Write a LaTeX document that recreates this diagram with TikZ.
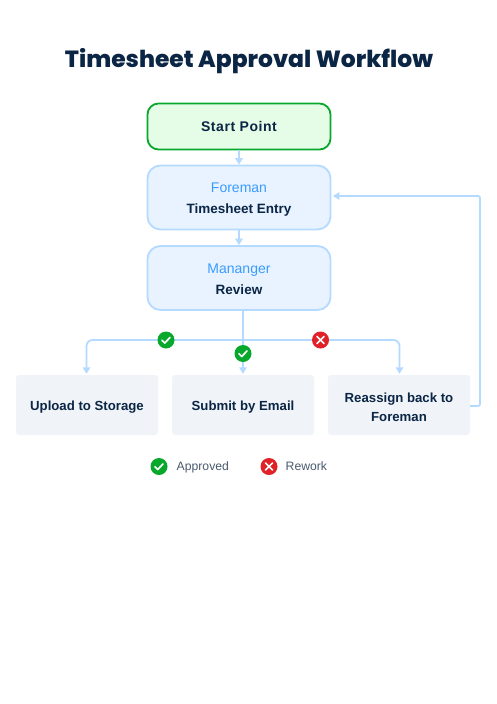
\documentclass[tikz,border=0pt]{standalone}
\usepackage{fontspec}
\setmainfont{Liberation Sans}
\newfontfamily\titlefont{Poppins ExtraBold}
\usetikzlibrary{arrows.meta,calc}
\definecolor{navy}{HTML}{0B2545}
\definecolor{linkblue}{HTML}{B5DAFF}
\definecolor{paleblue}{HTML}{E8F3FF}
\definecolor{palegreen}{HTML}{E5FCE6}
\definecolor{okgreen}{HTML}{07A82B}
\definecolor{badred}{HTML}{E02127}
\definecolor{softgrey}{HTML}{F0F4F8}
\definecolor{rolecol}{HTML}{3A9BFF}
\definecolor{legendcol}{HTML}{4A5A6E}
\newcommand{\nudge}{\rule{0pt}{14pt}}
\newcommand{\nudgeless}{\rule{0pt}{13pt}}
\tikzset{
  x=1pt,y=-1pt,
  flow/.style={draw=linkblue,line width=1.8pt,rounded corners=6pt,-{Triangle[length=6.5pt,width=7.5pt]}},
  startbox/.style={draw=okgreen,fill=palegreen,line width=1.8pt,rounded corners=11pt,minimum width=183pt,minimum height=46pt,inner sep=0pt,align=center,font=\fontsize{14}{17}\selectfont\bfseries\addfontfeature{LetterSpace=4},text=navy},
  rolebox/.style={draw=linkblue,fill=paleblue,line width=1.8pt,rounded corners=13pt,minimum width=183pt,minimum height=64pt,inner sep=0pt,align=center,font=\fontsize{13.5}{21}\selectfont,text=navy},
  taskbox/.style={fill=softgrey,rounded corners=3pt,minimum width=142pt,minimum height=60pt,inner sep=0pt,align=center,font=\fontsize{13.2}{19}\selectfont\bfseries,text=navy},
  badge/.style={circle,minimum size=17pt,inner sep=0pt},
  legendtext/.style={anchor=west,inner sep=0pt,text height=9pt,text depth=3pt,font=\fontsize{12.2}{14}\selectfont,text=legendcol},
  mark glyph/.style={draw=white,line width=1.7pt}
}
\newcommand{\okbadge}[2]{%
  \node[badge,fill=okgreen] (#1) at #2 {};
  \draw[mark glyph,line cap=round,line join=round] ($(#1)+(-4,0.3)$) -- ($(#1)+(-1.2,3)$) -- ($(#1)+(4,-2.6)$);
}
\newcommand{\nobadge}[2]{%
  \node[badge,fill=badred] (#1) at #2 {};
  \draw[mark glyph,line cap=round] ($(#1)+(-3.6,-3.6)$) -- ($(#1)+(3.6,3.6)$) ($(#1)+(-3.6,3.6)$) -- ($(#1)+(3.6,-3.6)$);
}
\begin{document}
\begin{tikzpicture}
\useasboundingbox (0,0) rectangle (496,704);
\fill[white] (0,0) rectangle (496,704);
\node[font=\titlefont\fontsize{23.4}{30}\selectfont,text=navy,inner sep=0pt] (title) at (249,61) {Timesheet Approval Workflow};
\node[startbox] (start) at (239,126.5) {Start Point};
\node[rolebox] (foreman) at (239,197.5) {\nudge{\color{rolecol}\fontsize{14}{21}\selectfont Foreman}\\{\bfseries Timesheet Entry}};
\node[rolebox] (manager) at (239,278) {\nudgeless{\color{rolecol}\fontsize{14}{21}\selectfont Mananger}\\{\bfseries Review}};
\node[taskbox] (upload) at (87,405) {\nudge Upload to Storage};
\node[taskbox] (email) at (243,405) {\nudge Submit by Email};
\node[taskbox] (reassign) at (399,405) {\nudge Reassign back to\\Foreman};
\coordinate (mgrout) at (243,310);
\coordinate (split) at (243,340);
\coordinate (upturn) at (86.5,340);
\coordinate (reassignturn) at (399.5,340);
\coordinate (backturnlow) at (480,406);
\coordinate (backturnhigh) at (480,196);
\draw[flow] (start.south) -- (foreman.north);
\draw[flow] (foreman.south) -- (manager.north);
\draw[flow] (mgrout) -- ([yshift=1pt]email.north -| mgrout);
\draw[flow] (split) -- (upturn) -- ([yshift=1pt]upload.north -| upturn);
\draw[flow] (split) -- (reassignturn) -- ([yshift=1pt]reassign.north -| reassignturn);
\draw[flow,rounded corners=2pt] (reassign.east |- backturnlow) -- (backturnlow) -- (backturnhigh) -- ([xshift=1.5pt]foreman.east |- backturnhigh);
\okbadge{okupload}{(166,340)}
\okbadge{okemail}{(243,353.5)}
\nobadge{noreassign}{(320.5,340)}
\okbadge{legendok}{(159,466.5)}
\node[legendtext] (approved) at (176.5,467) {Approved};
\nobadge{legendno}{(269,466.5)}
\node[legendtext] (rework) at (285.5,467) {Rework};
\end{tikzpicture}
\end{document}
